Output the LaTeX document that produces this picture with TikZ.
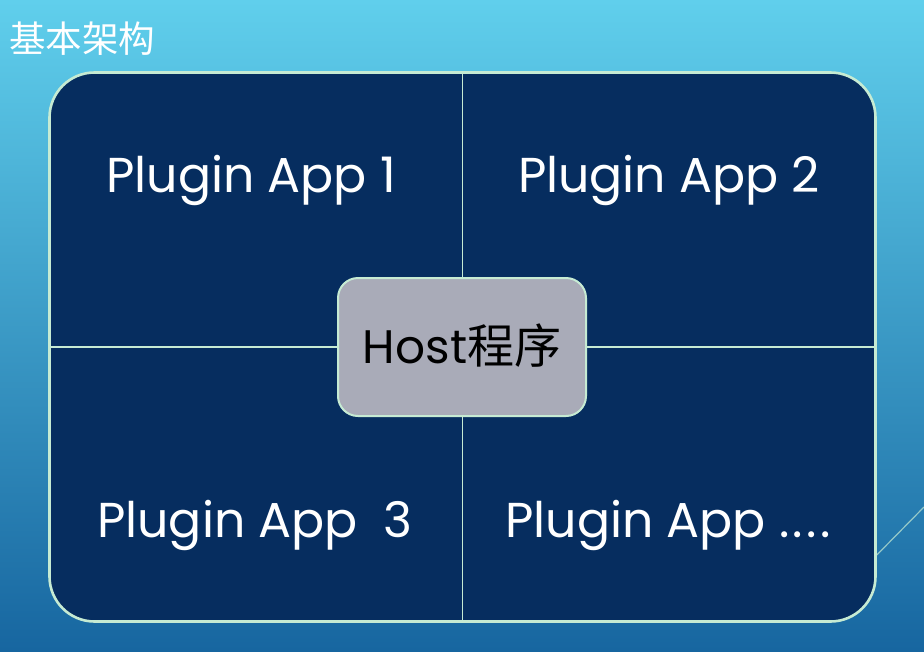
\documentclass[tikz,border=0pt]{standalone}
\usepackage{fontspec}
\setmainfont{Poppins}
\newfontfamily\cjk{Noto Sans CJK SC}
\definecolor{bgtop}{HTML}{60CFEC}
\definecolor{bgmid}{HTML}{3BA2CF}
\definecolor{bgbot}{HTML}{1766A0}
\definecolor{navy}{HTML}{062D5F}
\definecolor{mint}{HTML}{C6EBD3}
\definecolor{hostgray}{HTML}{A9ABB8}
\tikzset{
  applabel/.style={text=white, anchor=base, inner sep=0pt, font=\fontsize{49}{52}\selectfont},
  divider/.style={draw=mint, line width=1.8pt},
}
\begin{document}
\begin{tikzpicture}[x=1pt,y=-1pt]
\useasboundingbox (0,0) rectangle (924,651);
\shade[top color=bgtop, middle color=bgmid, bottom color=bgbot] (0,0) rectangle (924,651);
\node[anchor=base west, inner sep=0pt, text=white, font=\cjk\fontsize{36.5}{40}\selectfont] (title) at (9,52) {基本架构};
\coordinate (deco) at (924,507);
\node[draw=mint, line width=2.6pt, fill=navy, rounded corners=45pt, minimum width=826pt, minimum height=549pt, inner sep=0pt] (frame) at (462.5,347) {};
\draw[mint, opacity=0.7, line width=1.2pt] (frame.east |- 0,555) -- (deco);
\draw[divider] (frame.north) -- (frame.south);
\draw[divider] (frame.west) -- (frame.east);
\node[draw=mint, line width=2pt, fill=hostgray, rounded corners=20pt, minimum width=248pt, minimum height=138pt, inner sep=0pt] (host) at (462,347) {};
\node[anchor=base, inner sep=0pt, font=\fontsize{47}{50}\selectfont] (hostlabel) at (462,363) {Host{\cjk 程序}};
\node[applabel] (app1) at (251,192) {Plugin App 1};
\node[applabel] (app2) at (669,192) {Plugin App 2};
\node[applabel] (app3) at (255,537) {Plugin App\ \ 3};
\node[applabel] (app4) at (668,537) {Plugin App .\kern3.5pt.\kern3.5pt.\kern3.5pt.};
\end{tikzpicture}
\end{document}
